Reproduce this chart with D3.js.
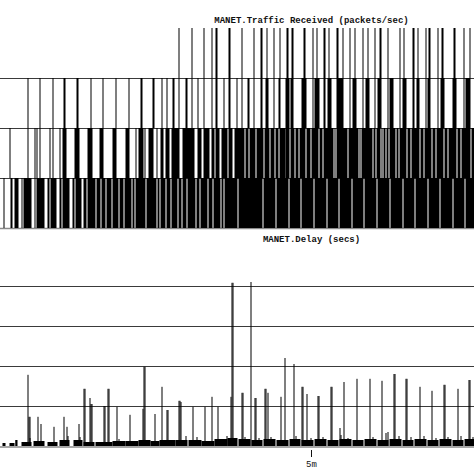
<!DOCTYPE html>
<html><head><meta charset="utf-8">
<script src="https://cdn.jsdelivr.net/npm/d3@7"></script>
<style>html,body{margin:0;padding:0;background:#fff;}svg{display:block}</style>
</head><body>
<svg id="chart" width="474" height="474"></svg>
<script>
// ---------------- data ----------------
const SAMPLE_SEC = 600 / 622;            // length of one statistic bucket (s)
const timeDomain = [0, 600];             // simulation time 0 .. 10 min
const timeTicks = [300];
const timeTickLabels = ["5m"];
const titleTraffic = "MANET.Traffic Received (packets/sec)";
const titleDelay = "MANET.Delay (secs)";
const trafficDomain = [0, 4];
const trafficGrid = [1, 2, 3];
const delayDomain = [0, 0.4];
const delayGrid = [0.1, 0.2, 0.3, 0.4];

// Traffic Received trace: bucket ranges [first, last] in which the trace crosses each band
const trafficBand0to1 = [[3,3],[10,11],[14,17],[21,21],[23,30],[34,34],[36,43],[47,48],[50,55],[59,60],[62,68],[72,73],[75,80],[83,85],[87,94],
  [96,99],[101,104],[106,110],[112,117],[119,122],[124,130],[132,133],[135,144],[146,155],[157,158],[160,164],[166,169],[171,176],[178,180],[182,185],[187,194],
  [196,198],[200,206],[208,211],[213,219],[221,222],[224,236],[238,261],[263,274],[276,287],[289,299],[301,312],[314,325],[327,337],[339,350],[352,362],
  [364,375],[377,388],[390,401],[403,413],[415,426],[428,438],[440,451],[453,463],[465,474]];
const trafficBand1to2 = [[9,9],[27,27],[34,34],[36,36],[39,39],[49,49],[52,52],[59,59],[62,65],[74,78],[87,91],[99,102],[112,115],[125,128],[135,135],
  [138,142],[144,144],[148,152],[156,156],[160,162],[165,168],[171,178],[182,193],[197,200],[203,208],[211,213],[215,218],[221,226],[228,231],[234,243],
  [245,247],[249,254],[256,262],[264,268],[270,273],[275,277],[279,284],[285,288],[290,293],[295,297],[299,304],[306,309],[311,317],[319,321],[323,332],
  [334,334],[336,346],[348,357],[359,359],[361,371],[373,374],[376,379],[381,381],[383,384],[386,387],[389,394],[396,397],[399,405],[407,409],[411,418],
  [420,422],[424,430],[432,434],[436,442],[444,446],[448,455],[457,459],[461,469],[471,474]];
const trafficBand2to3 = [[27,27],[39,39],[52,52],[63,64],[76,77],[90,90],[102,102],[115,115],[128,128],[140,141],[152,153],[161,161],[166,166],[172,173],
  [178,178],[185,186],[191,191],[197,197],[203,203],[211,211],[215,216],[223,223],[228,229],[236,236],[241,241],[247,248],[253,253],[260,261],[265,267],
  [273,273],[278,279],[285,288],[290,292],[301,305],[312,312],[314,318],[323,324],[327,330],[336,342],[349,349],[352,355],[362,362],[365,368],[374,374],
  [377,380],[387,387],[389,392],[399,399],[402,405],[412,413],[416,418],[425,425],[427,429],[437,437],[440,443],[452,455],[463,463],[465,469]];
const trafficBand3to4 = [[178,178],[191,191],[203,203],[211,211],[215,216],[228,229],[241,241],[253,253],[260,261],[266,266],[273,273],[279,279],
  [286,287],[291,292],[303,304],[312,312],[316,316],[323,324],[328,328],[336,337],[342,342],[349,349],[354,354],[362,362],[367,367],[374,374],[379,380],
  [387,387],[399,399],[403,403],[412,413],[417,417],[425,425],[428,429],[437,437],[441,442],[453,454],[463,463],[469,469]];

// Delay: individual samples [bucket, seconds]
const delaySamples = [[27,0.178],[28,0.073],[29,0.073],[37,0.073],[40,0.055],[53,0.048],[63,0.073],[66,0.048],[78,0.055],[83,0.143],[84,0.143],
  [89,0.12],[90,0.105],[91,0.105],[103,0.1],[104,0.1],[107,0.143],[108,0.143],[116,0.098],[129,0.078],[142,0.093],[143,0.198],[144,0.198],[154,0.08],
  [161,0.148],[166,0.09],[167,0.09],[178,0.113],[179,0.113],[180,0.11],[192,0.098],[204,0.098],[211,0.123],[217,0.098],[230,0.123],[231,0.408],[232,0.408],
  [241,0.133],[242,0.133],[250,0.41],[254,0.12],[255,0.12],[264,0.143],[265,0.143],[267,0.133],[280,0.123],[284,0.22],[293,0.205],[301,0.148],
  [302,0.148],[306,0.13],[317,0.125],[318,0.125],[330,0.148],[331,0.148],[339,0.045],[343,0.16],[356,0.168],[369,0.168],[381,0.163],[387,0.035],[393,0.18],
  [394,0.18],[405,0.168],[406,0.168],[419,0.148],[431,0.138],[443,0.153],[444,0.153],[457,0.143],[468,0.165],[469,0.165]];
// Delay: small background delays, [first bucket, last bucket, seconds]
const delayLow = [[2,4,0.0075],[9,13,0.0075],[15,16,0.015],[21,30,0.01],[33,43,0.0125],[47,56,0.01],[59,68,0.015],[73,81,0.015],[83,93,0.01],
  [95,111,0.01],[112,124,0.0125],[125,137,0.0125],[138,149,0.015],[150,158,0.0125],[159,174,0.015],[175,186,0.015],[188,200,0.015],[201,213,0.0125],
  [214,226,0.0175],[227,236,0.02],[238,249,0.0175],[251,261,0.015],[263,274,0.0175],[276,287,0.015],[289,299,0.0175],[301,312,0.015],[314,325,0.0175],
  [327,337,0.015],[339,350,0.0175],[352,362,0.015],[364,375,0.0175],[377,387,0.015],[389,400,0.0175],[402,412,0.015],[414,425,0.0175],[427,437,0.015],
  [439,450,0.0175],[452,462,0.015],[464,474,0.0175]];
const delayLowPeaks = [[15,0.015],[29,0.02],[67,0.025],[79,0.0225],[118,0.0175],[185,0.025],[196,0.0225],[226,0.025],[244,0.0225],[258,0.02],[270,0.0225],
  [295,0.025],[310,0.02],[322,0.0225],[340,0.0275],[347,0.02],[372,0.0225],[385,0.0325],[398,0.025],[410,0.0225],[423,0.025],[435,0.02],[447,0.0225],
  [460,0.025],[472,0.0225]];

// ---------------- drawing ----------------
const svg = d3.select("#chart");
const W = 474;
const x = d3.scaleLinear().domain(timeDomain).range([0.5, 622.5]);
const yT = d3.scaleLinear().domain(trafficDomain).range([228, 28]);
const yD = d3.scaleLinear().domain(delayDomain).range([446, 286]);
const bx = i => x(i * SAMPLE_SEC);
const INK = "#000", GRID = "#3a3a3a", AXIS = "#8a8a8a";

// titles
const font = "'Liberation Mono','DejaVu Sans Mono',monospace";
svg.append("text").attr("x", x(300)).attr("y", 23).attr("text-anchor", "middle")
  .attr("font-family", font).attr("font-size", 9).attr("font-weight", "bold").attr("fill", "#111").text(titleTraffic);
svg.append("text").attr("x", x(300)).attr("y", 242).attr("text-anchor", "middle")
  .attr("font-family", font).attr("font-size", 9).attr("font-weight", "bold").attr("fill", "#111").text(titleDelay);

// --- traffic panel ---
const gT = svg.append("g");
gT.selectAll("line.grid").data(trafficGrid).join("line").attr("class", "grid")
  .attr("x1", 0).attr("x2", W).attr("y1", d => yT(d) + 0.5).attr("y2", d => yT(d) + 0.5)
  .attr("stroke", GRID).attr("stroke-width", 1.2);
gT.append("line").attr("x1", 0).attr("x2", W).attr("y1", yT(0) + 0.5).attr("y2", yT(0) + 0.5)
  .attr("stroke", AXIS).attr("stroke-width", 1.5);
[trafficBand0to1, trafficBand1to2, trafficBand2to3, trafficBand3to4].forEach((runs, k) => {
  gT.append("g").selectAll("rect").data(runs).join("rect")
    .attr("x", d => bx(d[0]))
    .attr("width", d => bx(d[1] + 1) - bx(d[0]))
    .attr("y", yT(k + 1))
    .attr("height", yT(k) - yT(k + 1))
    .attr("fill", INK);
});

// --- delay panel ---
const gD = svg.append("g");
gD.selectAll("line.grid").data(delayGrid).join("line").attr("class", "grid")
  .attr("x1", 0).attr("x2", W).attr("y1", d => yD(d) + 0.5).attr("y2", d => yD(d) + 0.5)
  .attr("stroke", GRID).attr("stroke-width", 1.2);
gD.append("line").attr("x1", 0).attr("x2", W).attr("y1", yD(0) + 1).attr("y2", yD(0) + 1)
  .attr("stroke", AXIS).attr("stroke-width", 1.5);
gD.append("g").selectAll("rect").data(delayLow).join("rect")
  .attr("x", d => bx(d[0])).attr("width", d => bx(d[1] + 1) - bx(d[0]))
  .attr("y", d => yD(d[2])).attr("height", d => yD(0) - yD(d[2])).attr("fill", INK);
gD.append("g").selectAll("rect").data(delayLowPeaks.concat(delaySamples)).join("rect")
  .attr("x", d => bx(d[0])).attr("width", d => bx(d[0] + 1) - bx(d[0]))
  .attr("y", d => yD(d[1])).attr("height", d => yD(0) - yD(d[1])).attr("fill", INK);

// time axis tick
const gA = svg.append("g");
gA.selectAll("line").data(timeTicks).join("line")
  .attr("x1", d => x(d)).attr("x2", d => x(d)).attr("y1", 450).attr("y2", 457)
  .attr("stroke", "#111").attr("stroke-width", 1);
gA.selectAll("text").data(timeTicks).join("text")
  .attr("x", d => x(d)).attr("y", 467).attr("text-anchor", "middle")
  .attr("font-family", font).attr("font-size", 9).attr("fill", "#111")
  .text((d, i) => timeTickLabels[i]);
</script>
</body></html>
